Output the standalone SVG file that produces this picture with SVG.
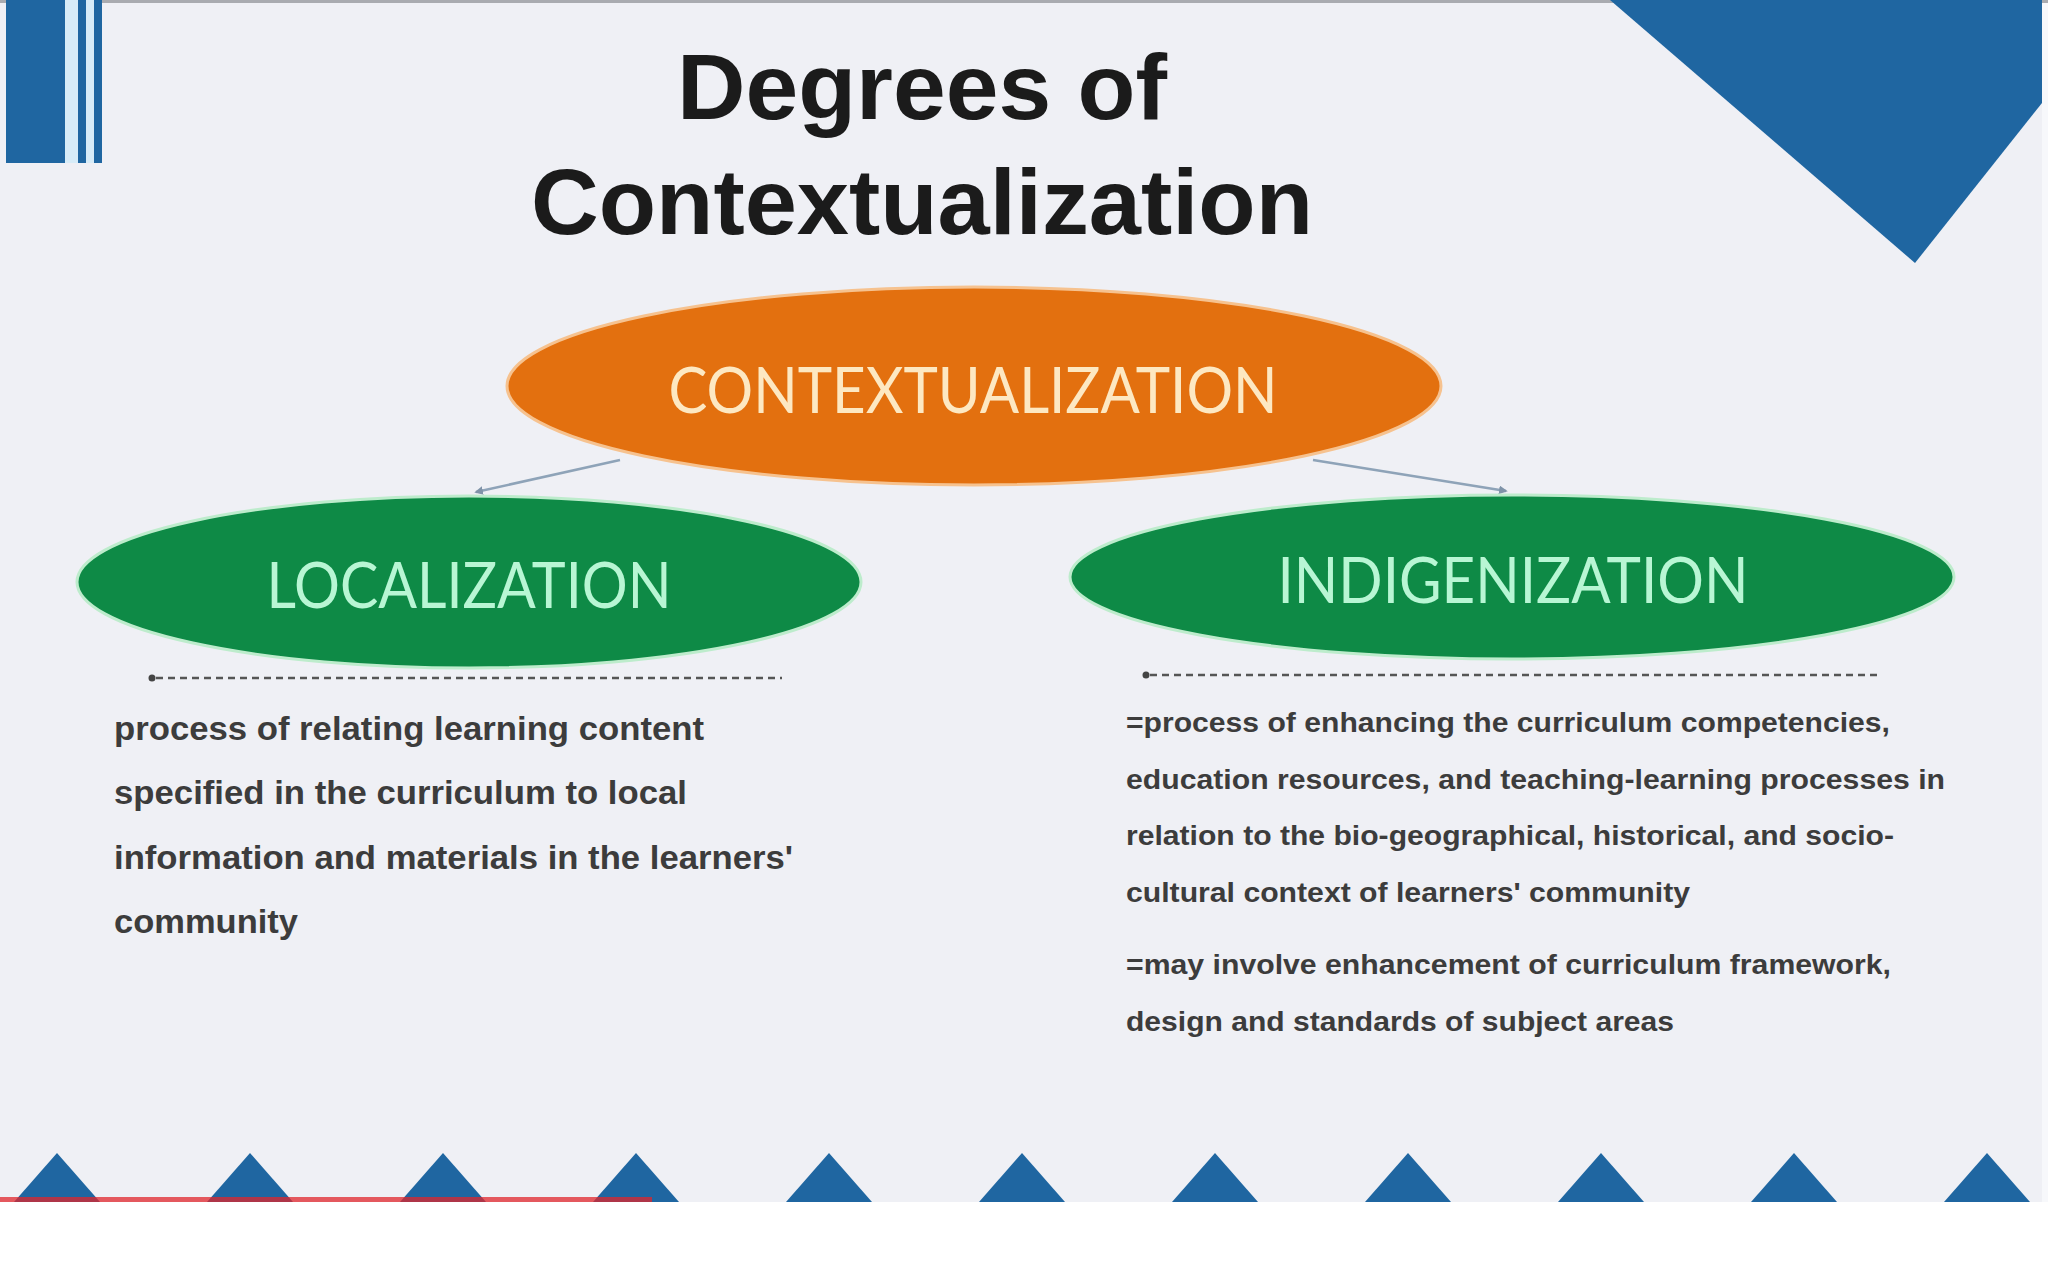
<svg xmlns="http://www.w3.org/2000/svg" width="2048" height="1261" viewBox="0 0 2048 1261">
<defs>
<style>
.blue{fill:#1f66a1}
.title{font-family:"Liberation Sans",Arial,sans-serif;font-weight:bold;font-size:93px;fill:#1b1b1b;text-anchor:middle}
.lbl{font-family:Lato,"Open Sans",sans-serif;font-size:64px;text-anchor:middle}
.desc{font-family:"Liberation Sans",Arial,sans-serif;font-weight:bold;fill:#3c3c3c}
.dl{font-size:33px}
.dr{font-size:27px}
.conn{stroke:#8ea3b8;stroke-width:2.5;fill:none}
.dash{stroke:#555;stroke-width:2.5;stroke-dasharray:7 5;fill:none}
</style>
<marker id="tick" viewBox="0 0 10 10" refX="8" refY="5" markerWidth="3.5" markerHeight="3.5" orient="auto">
<path d="M0,0 L10,5 L0,10 z" fill="#7f93a8"/>
</marker>
</defs>
<rect x="0" y="0" width="2048" height="1261" fill="#ffffff"/>
<rect x="0" y="0" width="2048" height="1202" fill="#eff0f5"/>
<rect x="0" y="0" width="2048" height="3" fill="#a9abb0"/>
<rect x="2042" y="3" width="6" height="1199" fill="#f7f8fb"/>
<g id="decor">
<rect class="blue" x="6" y="0" width="59" height="163"/>
<rect x="65" y="0" width="13" height="163" fill="#d7ecf8"/>
<rect class="blue" x="78" y="0" width="8" height="163"/>
<rect x="86" y="0" width="8" height="163" fill="#d7ecf8"/>
<rect class="blue" x="94" y="0" width="8" height="163"/>
<polygon class="blue" points="1610,0 2042,0 2042,103 1915,263"/>
<polygon class="blue" points="14,1202 57,1153 100,1202"/>
<polygon class="blue" points="207,1202 250,1153 293,1202"/>
<polygon class="blue" points="400,1202 443,1153 486,1202"/>
<polygon class="blue" points="593,1202 636,1153 679,1202"/>
<polygon class="blue" points="786,1202 829,1153 872,1202"/>
<polygon class="blue" points="979,1202 1022,1153 1065,1202"/>
<polygon class="blue" points="1172,1202 1215,1153 1258,1202"/>
<polygon class="blue" points="1365,1202 1408,1153 1451,1202"/>
<polygon class="blue" points="1558,1202 1601,1153 1644,1202"/>
<polygon class="blue" points="1751,1202 1794,1153 1837,1202"/>
<polygon class="blue" points="1944,1202 1987,1153 2030,1202"/>
<rect x="0" y="1197" width="652" height="5" fill="#e0252b" opacity="0.75"/>
</g>
<g id="title">
<text class="title" x="922" y="119" textLength="490" lengthAdjust="spacingAndGlyphs">Degrees of</text>
<text class="title" x="922" y="234" textLength="782" lengthAdjust="spacingAndGlyphs">Contextualization</text>
</g>
<g id="connectors">
<line class="conn" x1="620" y1="460" x2="476" y2="492" marker-end="url(#tick)"/>
<line class="conn" x1="1313" y1="460" x2="1506" y2="491" marker-end="url(#tick)"/>
</g>
<g id="node-contextualization">
<ellipse cx="974" cy="386" rx="467" ry="99" fill="#e3700f" stroke="#f6c28f" stroke-width="3"/>
<text class="lbl" x="973" y="413" fill="#fde8c2" textLength="609" lengthAdjust="spacingAndGlyphs">CONTEXTUALIZATION</text>
</g>
<g id="node-localization">
<ellipse cx="469" cy="582" rx="392" ry="86" fill="#0e8a46" stroke="#bdeccc" stroke-width="3"/>
<text class="lbl" x="469" y="608" fill="#b8f6d4" textLength="405" lengthAdjust="spacingAndGlyphs">LOCALIZATION</text>
<circle cx="152" cy="678" r="3.5" fill="#444"/>
<line class="dash" x1="156" y1="678" x2="782" y2="678"/>
<text class="desc dl" x="114" y="740" textLength="590" lengthAdjust="spacingAndGlyphs">process of relating learning content</text>
<text class="desc dl" x="114" y="804" textLength="573" lengthAdjust="spacingAndGlyphs">specified in the curriculum to local</text>
<text class="desc dl" x="114" y="869" textLength="679" lengthAdjust="spacingAndGlyphs">information and materials in the learners'</text>
<text class="desc dl" x="114" y="933" textLength="184" lengthAdjust="spacingAndGlyphs">community</text>
</g>
<g id="node-indigenization">
<ellipse cx="1512" cy="577" rx="442" ry="82" fill="#0e8a46" stroke="#bdeccc" stroke-width="3"/>
<text class="lbl" x="1513" y="603" fill="#b8f6d4" textLength="471" lengthAdjust="spacingAndGlyphs">INDIGENIZATION</text>
<circle cx="1146" cy="675" r="3.5" fill="#444"/>
<line class="dash" x1="1150" y1="675" x2="1881" y2="675"/>
<text class="desc dr" x="1126" y="732" textLength="764" lengthAdjust="spacingAndGlyphs">=process of enhancing the curriculum competencies,</text>
<text class="desc dr" x="1126" y="789" textLength="819" lengthAdjust="spacingAndGlyphs">education resources, and teaching-learning processes in</text>
<text class="desc dr" x="1126" y="845" textLength="768" lengthAdjust="spacingAndGlyphs">relation to the bio-geographical, historical, and socio-</text>
<text class="desc dr" x="1126" y="902" textLength="564" lengthAdjust="spacingAndGlyphs">cultural context of learners' community</text>
<text class="desc dr" x="1126" y="974" textLength="765" lengthAdjust="spacingAndGlyphs">=may involve enhancement of curriculum framework,</text>
<text class="desc dr" x="1126" y="1031" textLength="548" lengthAdjust="spacingAndGlyphs">design and standards of subject areas</text>
</g>
</svg>
